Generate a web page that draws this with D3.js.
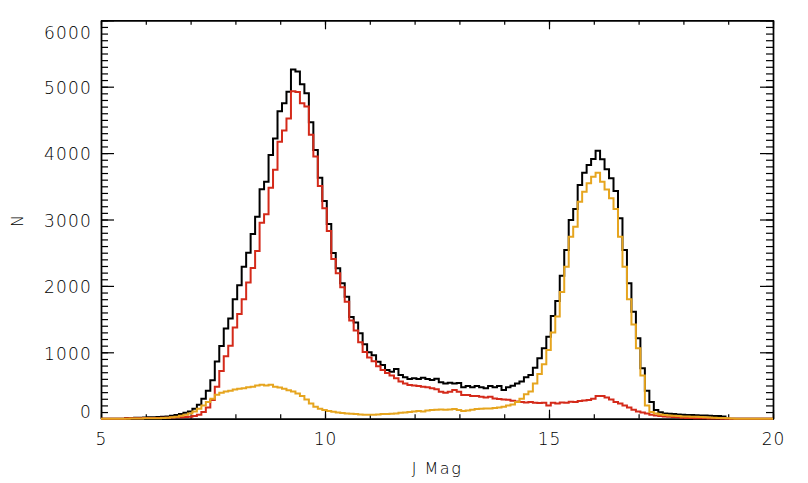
<!DOCTYPE html>
<html>
<head>
<meta charset="utf-8">
<script src="https://cdn.jsdelivr.net/npm/d3@7"></script>
<style>
  body { margin: 0; background: #fff; }
  svg text { font-family: "DejaVu Sans", sans-serif; font-weight: 200; fill: #000; }
</style>
</head>
<body>
<div id="chart"></div>
<script>
// histogram bins, 0.1 mag wide, first bin centred on ~5.0
const binStart = 4.94, binWidth = 0.1, nBins = 151;

// total sample
const totalCounts = [
  0,0,0,0,0,0,10,12,14,15,
  18,20,22,25,30,35,45,55,70,90,
  110,150,210,300,420,580,860,1095,1360,1510,
  1800,2010,2290,2500,2780,3040,3455,3570,3970,4220,
  4630,4750,4925,5260,5230,5036,4900,4464,4047,3630,
  3279,2932,2496,2265,2039,1838,1530,1450,1286,1120,
  1000,955,858,808,733,708,748,658,623,598,
  608,598,618,598,583,603,548,532,540,532,
  538,472,492,472,492,472,457,492,472,492,
  432,472,497,530,560,623,660,769,909,1060,
  1235,1547,1772,2154,2541,2993,3158,3520,3705,3821,
  3911,4037,3906,3755,3620,3429,3018,2541,2039,1612,
  1211,759,420,250,130,96,80,75,70,65,
  60,55,55,52,50,48,45,42,40,35,
  0,0,0,0,0,0,0,0,0,0,
  0
];

// first group (red)
const redCounts = [
  0,0,0,0,0,0,5,6,7,8,
  9,10,10,12,13,15,17,20,22,25,
  30,40,60,100,170,280,480,720,940,1100,
  1375,1575,1800,2050,2270,2525,2950,3080,3480,3750,
  4170,4340,4520,4930,4920,4750,4700,4275,3950,3505,
  3168,2827,2406,2190,1980,1760,1480,1330,1150,1005,
  920,865,790,735,690,650,610,560,532,507,
  500,492,482,472,457,442,407,392,407,432,
  407,357,357,342,342,331,321,331,306,296,
  291,285,270,260,250,245,250,240,235,240,
  200,240,230,245,240,255,250,265,275,282,
  300,340,340,320,290,250,230,200,170,135,
  110,95,80,60,50,40,35,30,25,20,
  15,12,10,8,6,5,4,3,2,1,
  0,0,0,0,0,0,0,0,0,0,
  0
];

// second group (orange)
const orangeCounts = [
  0,0,0,0,0,0,0,2,3,4,
  5,6,7,8,10,15,20,30,45,60,
  80,110,150,200,250,300,360,390,410,420,
  440,450,460,475,480,500,510,500,510,480,
  470,450,430,410,380,340,290,230,180,150,
  130,115,105,95,85,80,75,70,65,60,
  60,60,65,70,70,75,80,90,95,100,
  110,115,110,125,130,135,140,135,140,145,
  130,115,125,135,145,150,155,155,160,170,
  180,200,215,250,300,370,410,530,675,820,
  1035,1300,1540,1910,2289,2741,2892,3268,3419,3545,
  3645,3705,3570,3450,3319,3158,2741,2289,1800,1420,
  1060,650,200,100,80,65,55,50,45,40,
  35,32,30,28,25,22,18,15,12,10,
  5,3,0,0,0,0,0,0,0,0,
  0
];

const xTicks = [5, 10, 15, 20];
const yTicks = [0, 1000, 2000, 3000, 4000, 5000, 6000];

const width = 808, height = 483;
const margin = { top: 20.3, right: 35, bottom: 64.3, left: 101 };

const svg = d3.select("#chart").append("svg")
  .attr("width", width)
  .attr("height", height);

const x = d3.scaleLinear().domain([5, 20]).range([margin.left, width - margin.right]);
const y = d3.scaleLinear().domain([0, 6000]).range([height - margin.bottom, margin.top]);

const edges = d3.range(nBins).map(k => binStart + k * binWidth);

function stepPts(counts) {
  const pts = edges.map((e, k) => [Math.max(5, e), counts[k]]);
  pts.push([20, counts[counts.length - 1]]);
  return pts;
}

const line = d3.line()
  .x(d => x(Math.min(20, d[0])))
  .y(d => y(d[1]))
  .curve(d3.curveStepAfter);

// minor ticks
const xMinor = d3.range(5, 20.01, 1);
const yMinor = d3.range(0, 6001, 100);

function styleAxis(g) {
  g.select(".domain").attr("stroke", "#000").attr("stroke-width", 1.4);
  g.selectAll(".tick line").attr("stroke", "#000").attr("stroke-width", 1.2);
}

// bottom
svg.append("g").attr("transform", `translate(0,${y(0)})`)
  .call(d3.axisBottom(x).tickValues(xMinor).tickSize(-4.5).tickSizeOuter(0).tickFormat(""))
  .call(styleAxis);
const xAx = svg.append("g").attr("transform", `translate(0,${y(0)})`)
  .call(d3.axisBottom(x).tickValues(xTicks).tickSize(-9).tickSizeOuter(0).tickPadding(14).tickFormat(d3.format("d")))
  .call(styleAxis);
xAx.selectAll("text").attr("font-size", 17).attr("letter-spacing", 1).attr("fill", "#000");

// top
svg.append("g").attr("transform", `translate(0,${y(6000)})`)
  .call(d3.axisTop(x).tickValues(xMinor).tickSize(-4.5).tickSizeOuter(0).tickFormat(""))
  .call(styleAxis);
svg.append("g").attr("transform", `translate(0,${y(6000)})`)
  .call(d3.axisTop(x).tickValues(xTicks).tickSize(-9).tickSizeOuter(0).tickFormat(""))
  .call(styleAxis);

// left
svg.append("g").attr("transform", `translate(${x(5)},0)`)
  .call(d3.axisLeft(y).tickValues(yMinor).tickSize(-7).tickSizeOuter(0).tickFormat(""))
  .call(styleAxis);
const yAx = svg.append("g").attr("transform", `translate(${x(5)},0)`)
  .call(d3.axisLeft(y).tickValues(yTicks).tickSize(-13).tickSizeOuter(0).tickPadding(9).tickFormat(d3.format("d")))
  .call(styleAxis);
yAx.selectAll("text")
  .attr("font-size", 17).attr("letter-spacing", 1.2).attr("fill", "#000")
  .attr("dy", d => d === 6000 ? "1.05em" : d === 0 ? "-0.05em" : "0.4em");

// right
svg.append("g").attr("transform", `translate(${x(20)},0)`)
  .call(d3.axisRight(y).tickValues(yMinor).tickSize(-7).tickSizeOuter(0).tickFormat(""))
  .call(styleAxis);
svg.append("g").attr("transform", `translate(${x(20)},0)`)
  .call(d3.axisRight(y).tickValues(yTicks).tickSize(-13).tickSizeOuter(0).tickFormat(""))
  .call(styleAxis);

// histograms
svg.append("path").datum(stepPts(totalCounts))
  .attr("d", line).attr("fill", "none").attr("stroke", "#000").attr("stroke-width", 2);
svg.append("path").datum(stepPts(redCounts))
  .attr("d", line).attr("fill", "none").attr("stroke", "#d42a1a").attr("stroke-width", 2);
svg.append("path").datum(stepPts(orangeCounts))
  .attr("d", line).attr("fill", "none").attr("stroke", "#e6a51f").attr("stroke-width", 2);

// axis titles
svg.append("text")
  .text("J Mag")
  .attr("x", 437).attr("y", 474)
  .attr("text-anchor", "middle")
  .attr("font-size", 16).attr("letter-spacing", 1.5);

svg.append("text")
  .text("N")
  .attr("transform", "translate(23,221) rotate(-90)")
  .attr("text-anchor", "middle")
  .attr("font-size", 16);
</script>
</body>
</html>
